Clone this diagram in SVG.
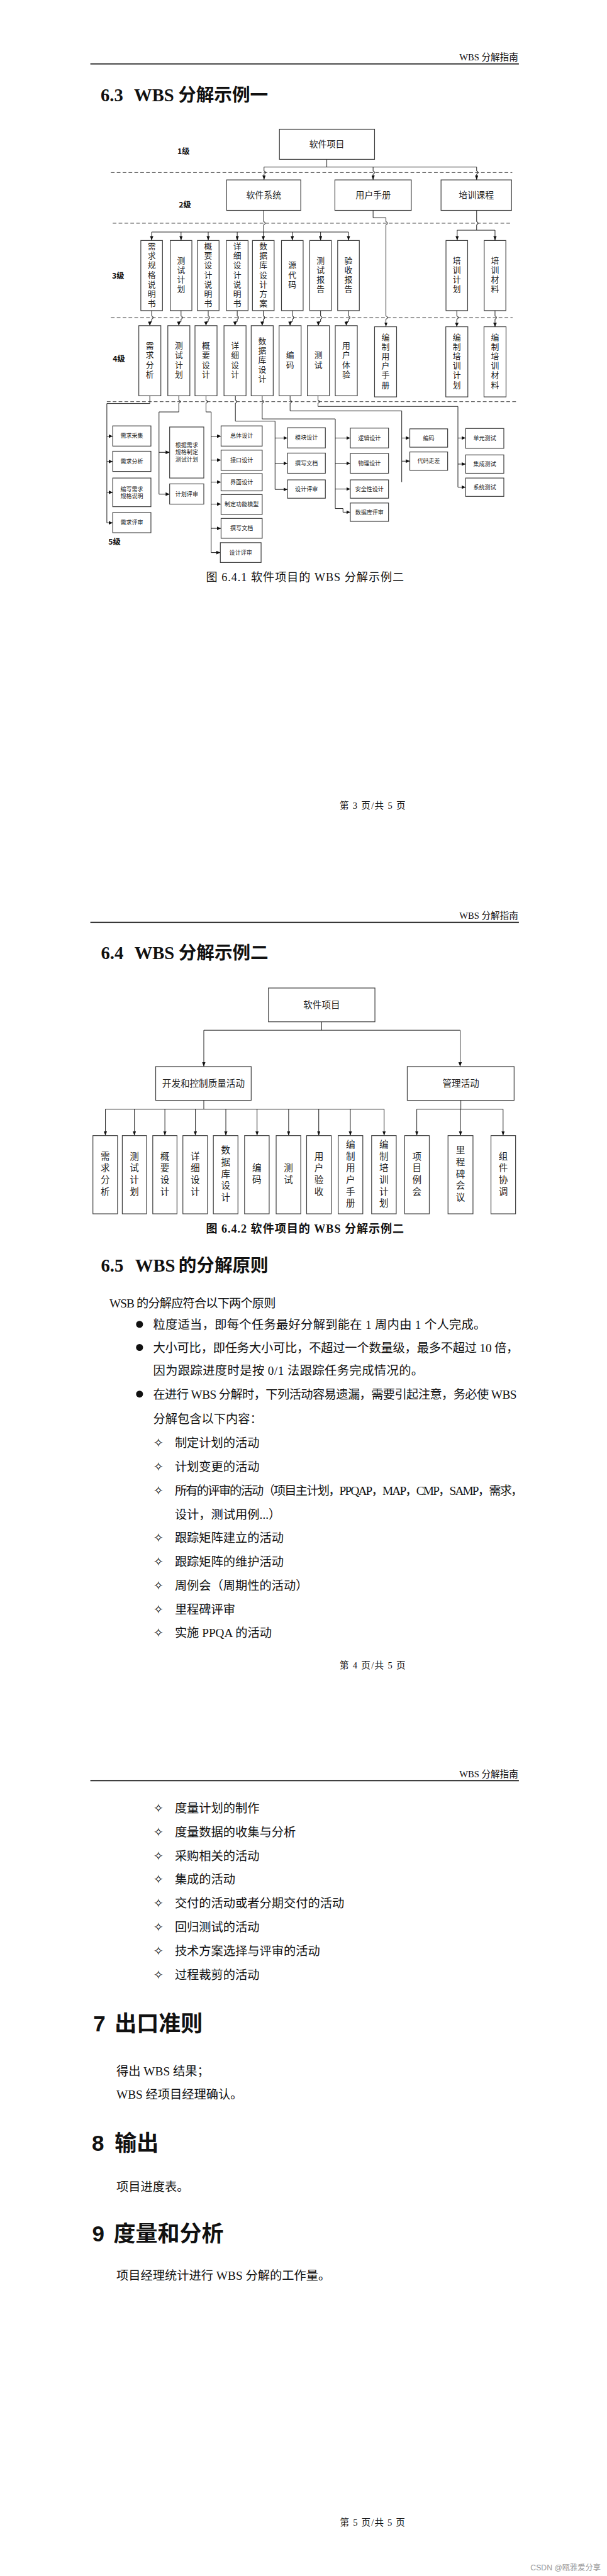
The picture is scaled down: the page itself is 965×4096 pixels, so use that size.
<svg xmlns="http://www.w3.org/2000/svg" width="965" height="4096" viewBox="0 0 965 4096">
<defs>
<style>
.t{font-family:"Liberation Serif","Noto Sans CJK SC",serif;fill:#111}
.hd{font-size:25px;text-anchor:end}
.ti{font-size:49px;font-weight:bold}
.ft{font-size:25px}
.b{font-size:33px}
.cap{font-size:31px;text-anchor:middle}
.sec{font-family:"Liberation Sans","Noto Sans CJK SC",sans-serif;font-size:60px;font-weight:bold;fill:#111}
.st{font-family:"DejaVu Sans",sans-serif;font-size:34px;fill:#111}
.r{fill:#fff;stroke:#3a3a3a;stroke-width:2}
.n{font-family:"Noto Sans CJK SC","Liberation Sans",sans-serif;text-anchor:middle;fill:#222}
.n24{font-size:24px}
.n15{font-size:15.5px}
.v{writing-mode:vertical-rl;text-anchor:middle}
.v22{font-size:22px;letter-spacing:4px}
.v25{font-size:25px;letter-spacing:7px}
.lv{font-family:"Noto Sans CJK SC",sans-serif;font-weight:bold;font-size:21px;fill:#111}
.c{fill:none;stroke:#111;stroke-width:1.6}
.d{fill:none;stroke:#333;stroke-width:1.6;stroke-dasharray:10 6}
.hr{stroke:#111;stroke-width:3}
.wm{font-family:"Liberation Sans","Noto Sans CJK SC",sans-serif;font-size:21px;fill:#9a9a9a;text-anchor:end}
</style>
<marker id="a" markerUnits="userSpaceOnUse" viewBox="0 0 11 10" markerWidth="11" markerHeight="10" refX="11" refY="5" orient="auto"><path d="M0,0L11,5L0,10z" fill="#111"/></marker>
<marker id="b" markerUnits="userSpaceOnUse" viewBox="0 0 12 9" markerWidth="12" markerHeight="9" refX="12" refY="4.5" orient="auto"><path d="M0,0L12,4.5L0,9z" fill="#111"/></marker>
</defs>
<rect width="965" height="4096" fill="#fff"/>
<g transform="scale(0.5838)">

<!-- page 3 -->
<g id="page3-header">
<text class="t hd" x="1411" y="164">WBS 分解指南</text>
<line class="hr" x1="246" y1="174" x2="1413" y2="174"/>
</g>
<text class="t ti" y="275"><tspan x="274">6.3</tspan><tspan x="365">WBS</tspan><tspan x="485">分解示例一</tspan></text>

<g id="levels1">
<text class="lv" x="483" y="419">1级</text>
<text class="lv" x="487" y="565">2级</text>
<text class="lv" x="305" y="758">3级</text>
<text class="lv" x="307" y="985">4级</text>
<text class="lv" x="295" y="1484">5级</text>
<line class="d" x1="302" y1="470" x2="1395" y2="470"/>
<line class="d" x1="307" y1="608" x2="1390" y2="608"/>
<line class="d" x1="302" y1="865" x2="1396" y2="865"/>
<line class="d" x1="291" y1="1094" x2="1405" y2="1094"/>
</g>

<g id="connectors1">
<path class="c" d="M890 434V455M719 455H1298"/>
<path class="c" marker-end="url(#b)" d="M719 455V466a4 4 0 0 1 0 8V490"/>
<path class="c" marker-end="url(#b)" d="M1016 455V466a4 4 0 0 1 0 8V490"/>
<path class="c" marker-end="url(#b)" d="M1298 455V466a4 4 0 0 1 0 8V490"/>
<path class="c" d="M718 573V604a4 4 0 0 1 0 8V632M413 632H949"/>
<path class="c" marker-end="url(#b)" d="M413 632V655"/>
<path class="c" marker-end="url(#b)" d="M493 632V655"/>
<path class="c" marker-end="url(#b)" d="M567 632V655"/>
<path class="c" marker-end="url(#b)" d="M646 632V655"/>
<path class="c" marker-end="url(#b)" d="M717 632V655"/>
<path class="c" marker-end="url(#b)" d="M796 632V655"/>
<path class="c" marker-end="url(#b)" d="M873 632V655"/>
<path class="c" marker-end="url(#b)" d="M949 632V655"/>
<path class="c" marker-end="url(#b)" d="M1016 573V593H1051V604a4 4 0 0 1 0 8V861a4 4 0 0 1 0 8V890"/>
<path class="c" d="M1298 573V604a4 4 0 0 1 0 8V627M1245 627H1348"/>
<path class="c" marker-end="url(#b)" d="M1245 627V655"/>
<path class="c" marker-end="url(#b)" d="M1348 627V655"/>
<path class="c" marker-end="url(#a)" d="M413 846V861a4 4 0 0 1 0 8V876H408V887"/>
<path class="c" marker-end="url(#a)" d="M493 846V861a4 4 0 0 1 0 8V876H487V887"/>
<path class="c" marker-end="url(#a)" d="M567 846V861a4 4 0 0 1 0 8V876H561V887"/>
<path class="c" marker-end="url(#a)" d="M646 846V861a4 4 0 0 1 0 8V876H640V887"/>
<path class="c" marker-end="url(#a)" d="M717 846V861a4 4 0 0 1 0 8V876H714V887"/>
<path class="c" marker-end="url(#a)" d="M796 846V861a4 4 0 0 1 0 8V876H790V887"/>
<path class="c" marker-end="url(#a)" d="M873 846V861a4 4 0 0 1 0 8V876H867V887"/>
<path class="c" marker-end="url(#a)" d="M949 846V861a4 4 0 0 1 0 8V876H943V887"/>
<path class="c" marker-end="url(#a)" d="M1244 846V861a4 4 0 0 1 0 8V890"/>
<path class="c" marker-end="url(#a)" d="M1348 846V861a4 4 0 0 1 0 8V890"/>
<!-- level 5 -->
<path class="c" d="M408 1078V1099H291V1424"/>
<path class="c" marker-end="url(#a)" d="M291 1188H307"/>
<path class="c" marker-end="url(#a)" d="M291 1257H307"/>
<path class="c" marker-end="url(#a)" d="M291 1341H307"/>
<path class="c" marker-end="url(#a)" d="M291 1424H307"/>
<path class="c" d="M487 1078V1090a4 4 0 0 1 0 8V1122H433V1346"/>
<path class="c" marker-end="url(#a)" d="M433 1232H462"/>
<path class="c" marker-end="url(#a)" d="M433 1346H462"/>
<path class="c" d="M561 1078V1090a4 4 0 0 1 0 8V1122H575V1505"/>
<path class="c" marker-end="url(#a)" d="M575 1188H602"/>
<path class="c" marker-end="url(#a)" d="M575 1253H602"/>
<path class="c" marker-end="url(#a)" d="M575 1313H602"/>
<path class="c" marker-end="url(#a)" d="M575 1373H602"/>
<path class="c" marker-end="url(#a)" d="M575 1439H602"/>
<path class="c" marker-end="url(#a)" d="M575 1505H600"/>
<path class="c" d="M641 1078V1090a4 4 0 0 1 0 8V1147H749V1333"/>
<path class="c" marker-end="url(#a)" d="M749 1193H783"/>
<path class="c" marker-end="url(#a)" d="M749 1262H783"/>
<path class="c" marker-end="url(#a)" d="M749 1333H783"/>
<path class="c" d="M714 1078V1090a4 4 0 0 1 0 8V1141H913V1385"/>
<path class="c" marker-end="url(#a)" d="M913 1193H954"/>
<path class="c" marker-end="url(#a)" d="M913 1262H954"/>
<path class="c" marker-end="url(#a)" d="M913 1332H954"/>
<path class="c" marker-end="url(#a)" d="M913 1385H934V1395H954"/>
<path class="c" d="M790 1078V1090a4 4 0 0 1 0 8V1119H1094V1313"/>
<path class="c" marker-end="url(#a)" d="M1094 1193H1116"/>
<path class="c" marker-end="url(#a)" d="M1094 1256H1116"/>
<path class="c" d="M866 1078V1090a4 4 0 0 1 0 8V1107H1247V1327"/>
<path class="c" marker-end="url(#a)" d="M1247 1193H1268"/>
<path class="c" marker-end="url(#a)" d="M1247 1264H1268"/>
<path class="c" marker-end="url(#a)" d="M1247 1327H1268"/>
</g>

<g id="n-root1"><rect class="r" x="761" y="352" width="259" height="82"/><text class="n n24" x="890" y="401">软件项目</text></g>
<g id="n-sys"><rect class="r" x="617" y="490" width="202" height="83"/><text class="n n24" x="718" y="539">软件系统</text></g>
<g id="n-manual"><rect class="r" x="912" y="490" width="208" height="83"/><text class="n n24" x="1016" y="539">用户手册</text></g>
<g id="n-train"><rect class="r" x="1201" y="490" width="192" height="83"/><text class="n n24" x="1297" y="539">培训课程</text></g>

<g id="n3-1"><rect class="r" x="383.5" y="655" width="59" height="191"/><text class="n v v22" x="413" y="750">需求规格说明书</text></g>
<g id="n3-2"><rect class="r" x="463.5" y="655" width="59" height="191"/><text class="n v v22" x="493" y="750">测试计划</text></g>
<g id="n3-3"><rect class="r" x="537.5" y="655" width="59" height="191"/><text class="n v v22" x="567" y="750">概要设计说明书</text></g>
<g id="n3-4"><rect class="r" x="616.5" y="655" width="59" height="191"/><text class="n v v22" x="646" y="750">详细设计说明书</text></g>
<g id="n3-5"><rect class="r" x="687.5" y="655" width="59" height="191"/><text class="n v v22" x="717" y="750">数据库设计方案</text></g>
<g id="n3-6"><rect class="r" x="766.5" y="655" width="59" height="191"/><text class="n v v22" x="796" y="750">源代码</text></g>
<g id="n3-7"><rect class="r" x="843.5" y="655" width="59" height="191"/><text class="n v v22" x="873" y="750">测试报告</text></g>
<g id="n3-8"><rect class="r" x="919.5" y="655" width="59" height="191"/><text class="n v v22" x="949" y="750">验收报告</text></g>
<g id="n3-9"><rect class="r" x="1214.5" y="655" width="59" height="191"/><text class="n v v22" x="1244" y="750">培训计划</text></g>
<g id="n3-10"><rect class="r" x="1318.5" y="655" width="59" height="191"/><text class="n v v22" x="1348" y="750">培训材料</text></g>

<g id="n4-1"><rect class="r" x="378" y="887" width="60" height="191"/><text class="n v v22" x="408" y="982">需求分析</text></g>
<g id="n4-2"><rect class="r" x="457" y="887" width="60" height="191"/><text class="n v v22" x="487" y="982">测试计划</text></g>
<g id="n4-3"><rect class="r" x="531" y="887" width="60" height="191"/><text class="n v v22" x="561" y="982">概要设计</text></g>
<g id="n4-4"><rect class="r" x="610" y="887" width="60" height="191"/><text class="n v v22" x="640" y="982">详细设计</text></g>
<g id="n4-5"><rect class="r" x="684" y="887" width="60" height="191"/><text class="n v v22" x="714" y="982">数据库设计</text></g>
<g id="n4-6"><rect class="r" x="760" y="887" width="60" height="191"/><text class="n v v22" x="790" y="982">编码</text></g>
<g id="n4-7"><rect class="r" x="837" y="887" width="60" height="191"/><text class="n v v22" x="867" y="982">测试</text></g>
<g id="n4-8"><rect class="r" x="913" y="887" width="60" height="191"/><text class="n v v22" x="943" y="982">用户体验</text></g>
<g id="n4-9"><rect class="r" x="1020" y="890" width="60" height="191"/><text class="n v v22" x="1050" y="985">编制用户手册</text></g>
<g id="n4-10"><rect class="r" x="1214" y="890" width="60" height="191"/><text class="n v v22" x="1244" y="985">编制培训计划</text></g>
<g id="n4-11"><rect class="r" x="1318" y="890" width="60" height="191"/><text class="n v v22" x="1348" y="985">编制培训材料</text></g>

<g id="n5-1a"><rect class="r" x="307" y="1160" width="104" height="55"/><text class="n n15" x="359" y="1193">需求采集</text></g>
<g id="n5-1b"><rect class="r" x="307" y="1229" width="104" height="55"/><text class="n n15" x="359" y="1262">需求分析</text></g>
<g id="n5-1c"><rect class="r" x="307" y="1302" width="104" height="78"/><text class="n n15" x="359" y="1337">编写需求</text><text class="n n15" x="359" y="1356">规格说明</text></g>
<g id="n5-1d"><rect class="r" x="307" y="1396" width="104" height="55"/><text class="n n15" x="359" y="1429">需求评审</text></g>
<g id="n5-2a"><rect class="r" x="462" y="1163" width="93" height="139"/><text class="n n15" x="508.5" y="1218.5">根据需求</text><text class="n n15" x="508.5" y="1237.5">规格制定</text><text class="n n15" x="508.5" y="1256.5">测试计划</text></g>
<g id="n5-2b"><rect class="r" x="462" y="1318" width="93" height="55"/><text class="n n15" x="508.5" y="1351">计划评审</text></g>
<g id="n5-3a"><rect class="r" x="602" y="1160" width="112" height="55"/><text class="n n15" x="658" y="1193">总体设计</text></g>
<g id="n5-3b"><rect class="r" x="602" y="1226" width="112" height="55"/><text class="n n15" x="658" y="1259">接口设计</text></g>
<g id="n5-3c"><rect class="r" x="602" y="1290" width="112" height="47"/><text class="n n15" x="658" y="1319">界面设计</text></g>
<g id="n5-3d"><rect class="r" x="602" y="1347" width="112" height="54"/><text class="n n15" x="658" y="1379.5">制定功能模型</text></g>
<g id="n5-3e"><rect class="r" x="602" y="1412" width="112" height="54"/><text class="n n15" x="658" y="1444.5">撰写文档</text></g>
<g id="n5-3f"><rect class="r" x="600" y="1478" width="111" height="54"/><text class="n n15" x="655.5" y="1510.5">设计评审</text></g>
<g id="n5-4a"><rect class="r" x="783" y="1165" width="103" height="55"/><text class="n n15" x="834.5" y="1198">模块设计</text></g>
<g id="n5-4b"><rect class="r" x="783" y="1234" width="103" height="55"/><text class="n n15" x="834.5" y="1267">撰写文档</text></g>
<g id="n5-4c"><rect class="r" x="783" y="1307" width="103" height="50"/><text class="n n15" x="834.5" y="1337.5">设计评审</text></g>
<g id="n5-5a"><rect class="r" x="954" y="1166" width="104" height="54"/><text class="n n15" x="1006" y="1198.5">逻辑设计</text></g>
<g id="n5-5b"><rect class="r" x="954" y="1235" width="104" height="54"/><text class="n n15" x="1006" y="1267.5">物理设计</text></g>
<g id="n5-5c"><rect class="r" x="954" y="1307" width="104" height="50"/><text class="n n15" x="1006" y="1337.5">安全性设计</text></g>
<g id="n5-5d"><rect class="r" x="954" y="1370" width="104" height="50"/><text class="n n15" x="1006" y="1400.5">数据库评审</text></g>
<g id="n5-6a"><rect class="r" x="1116" y="1168" width="103" height="50"/><text class="n n15" x="1167.5" y="1198.5">编码</text></g>
<g id="n5-6b"><rect class="r" x="1116" y="1231" width="103" height="50"/><text class="n n15" x="1167.5" y="1261.5">代码走差</text></g>
<g id="n5-7a"><rect class="r" x="1268" y="1167" width="104" height="54"/><text class="n n15" x="1320" y="1199.5">单元测试</text></g>
<g id="n5-7b"><rect class="r" x="1268" y="1239" width="104" height="50"/><text class="n n15" x="1320" y="1269.5">集成测试</text></g>
<g id="n5-7c"><rect class="r" x="1268" y="1302" width="104" height="50"/><text class="n n15" x="1320" y="1332.5">系统测试</text></g>

<text class="t cap" x="830.5" y="1583" textLength="539">图 6.4.1 软件项目的 WBS 分解示例二</text>
<text class="t ft" x="925" y="2203" textLength="179">第 3 页/共 5 页</text>

<!-- page 4 -->
<g id="page4-header">
<text class="t hd" x="1411" y="2503">WBS 分解指南</text>
<line class="hr" x1="246" y1="2512" x2="1413" y2="2512"/>
</g>
<text class="t ti" y="2613"><tspan x="275">6.4</tspan><tspan x="366">WBS</tspan><tspan x="486">分解示例二</tspan></text>

<g id="connectors2">
<path class="c" d="M876 2783V2806M555 2806H1253"/>
<path class="c" marker-end="url(#b)" d="M555 2806V2905"/>
<path class="c" marker-end="url(#b)" d="M1253 2806V2905"/>
<path class="c" d="M555 2997V3021M287 3021H1046M1255 2997V3021M1135 3021H1370"/>
<path class="c" marker-end="url(#b)" d="M287 3021V3093"/>
<path class="c" marker-end="url(#b)" d="M366 3021V3093"/>
<path class="c" marker-end="url(#b)" d="M449 3021V3093"/>
<path class="c" marker-end="url(#b)" d="M532 3021V3093"/>
<path class="c" marker-end="url(#b)" d="M615 3021V3093"/>
<path class="c" marker-end="url(#b)" d="M700 3021V3093"/>
<path class="c" marker-end="url(#b)" d="M786 3021V3093"/>
<path class="c" marker-end="url(#b)" d="M868 3021V3093"/>
<path class="c" marker-end="url(#b)" d="M954 3021V3093"/>
<path class="c" marker-end="url(#b)" d="M1046 3021V3093"/>
<path class="c" marker-end="url(#b)" d="M1135 3021V3093"/>
<path class="c" marker-end="url(#b)" d="M1254 3021V3093"/>
<path class="c" marker-end="url(#b)" d="M1370 3021V3093"/>
</g>
<g id="m-root"><rect class="r" x="731" y="2691" width="290" height="92"/><text class="n" style="font-size:25px" x="876" y="2745">软件项目</text></g>
<g id="m-dev"><rect class="r" x="424" y="2905" width="260" height="92"/><text class="n" style="font-size:25px" x="554" y="2960">开发和控制质量活动</text></g>
<g id="m-mgmt"><rect class="r" x="1109" y="2905" width="291" height="92"/><text class="n" style="font-size:25px" x="1255" y="2960">管理活动</text></g>
<g id="m1"><rect class="r" x="253" y="3093" width="67" height="213"/><text class="n v v25" x="286.5" y="3200">需求分析</text></g>
<g id="m2"><rect class="r" x="333" y="3093" width="66" height="213"/><text class="n v v25" x="366" y="3200">测试计划</text></g>
<g id="m3"><rect class="r" x="416" y="3093" width="66" height="213"/><text class="n v v25" x="449" y="3200">概要设计</text></g>
<g id="m4"><rect class="r" x="498" y="3093" width="67" height="213"/><text class="n v v25" x="531.5" y="3200">详细设计</text></g>
<g id="m5"><rect class="r" x="581" y="3093" width="67" height="213"/><text class="n v v25" x="614.5" y="3200">数据库设计</text></g>
<g id="m6"><rect class="r" x="666" y="3093" width="67" height="213"/><text class="n v v25" x="699.5" y="3200">编码</text></g>
<g id="m7"><rect class="r" x="752" y="3093" width="67" height="213"/><text class="n v v25" x="785.5" y="3200">测试</text></g>
<g id="m8"><rect class="r" x="835" y="3093" width="67" height="213"/><text class="n v v25" x="868.5" y="3200">用户验收</text></g>
<g id="m9"><rect class="r" x="921" y="3093" width="67" height="213"/><text class="n v v25" x="954.5" y="3200">编制用户手册</text></g>
<g id="m10"><rect class="r" x="1012" y="3093" width="67" height="213"/><text class="n v v25" x="1045.5" y="3200">编制培训计划</text></g>
<g id="m11"><rect class="r" x="1102" y="3093" width="67" height="213"/><text class="n v v25" x="1135.5" y="3200">项目例会</text></g>
<g id="m12"><rect class="r" x="1220" y="3093" width="68" height="213"/><text class="n v v25" x="1254" y="3200">里程碑会议</text></g>
<g id="m13"><rect class="r" x="1337" y="3093" width="67" height="213"/><text class="n v v25" x="1370.5" y="3200">组件协调</text></g>

<text class="t cap" style="font-weight:bold" x="830.5" y="3358" textLength="539">图 6.4.2 软件项目的 WBS 分解示例二</text>

<text class="t ti" y="3463"><tspan x="275">6.5</tspan><tspan x="368">WBS</tspan><tspan x="486">的分解原则</tspan></text>
<text class="t b" x="298" y="3561" textLength="453">WSB 的分解应符合以下两个原则</text>
<circle cx="380" cy="3607" r="9.5" fill="#111"/>
<text class="t b" x="417" y="3619" textLength="906">粒度适当，即每个任务最好分解到能在 1 周内由 1 个人完成。</text>
<circle cx="380" cy="3670" r="9.5" fill="#111"/>
<text class="t b" x="417" y="3682" textLength="995">大小可比，即任务大小可比，不超过一个数量级，最多不超过 10 倍，</text>
<text class="t b" x="417" y="3745" textLength="736">因为跟踪进度时是按 0/1 法跟踪任务完成情况的。</text>
<circle cx="380" cy="3797" r="9.5" fill="#111"/>
<text class="t b" x="417" y="3809" textLength="990">在进行 WBS 分解时，下列活动容易遗漏，需要引起注意，务必使 WBS</text>
<text class="t b" x="417" y="3877">分解包含以下内容：</text>
<g id="list1">
<text class="st" x="417" y="3941">✧</text><text class="t b" x="476" y="3941">制定计划的活动</text>
<text class="st" x="417" y="4006">✧</text><text class="t b" x="476" y="4006">计划变更的活动</text>
<text class="st" x="417" y="4071">✧</text><text class="t b" x="476" y="4071" textLength="948">所有的评审的活动（项目主计划，PPQAP，MAP，CMP，SAMP，需求，</text>
<text class="t b" x="476" y="4136">设计，测试用例...）</text>
<text class="st" x="417" y="4200">✧</text><text class="t b" x="476" y="4200">跟踪矩阵建立的活动</text>
<text class="st" x="417" y="4265">✧</text><text class="t b" x="476" y="4265">跟踪矩阵的维护活动</text>
<text class="st" x="417" y="4330">✧</text><text class="t b" x="476" y="4330">周例会（周期性的活动）</text>
<text class="st" x="417" y="4395">✧</text><text class="t b" x="476" y="4395">里程碑评审</text>
<text class="st" x="417" y="4459">✧</text><text class="t b" x="476" y="4459">实施 PPQA 的活动</text>
</g>
<text class="t ft" x="925" y="4544" textLength="179">第 4 页/共 5 页</text>

<!-- page 5 -->
<g id="page5-header">
<text class="t hd" x="1411" y="4841">WBS 分解指南</text>
<line class="hr" x1="246" y1="4850" x2="1413" y2="4850"/>
</g>
<g id="list2">
<text class="st" x="417" y="4936">✧</text><text class="t b" x="476" y="4936">度量计划的制作</text>
<text class="st" x="417" y="5001">✧</text><text class="t b" x="476" y="5001">度量数据的收集与分析</text>
<text class="st" x="417" y="5066">✧</text><text class="t b" x="476" y="5066">采购相关的活动</text>
<text class="st" x="417" y="5130">✧</text><text class="t b" x="476" y="5130">集成的活动</text>
<text class="st" x="417" y="5195">✧</text><text class="t b" x="476" y="5195">交付的活动或者分期交付的活动</text>
<text class="st" x="417" y="5260">✧</text><text class="t b" x="476" y="5260">回归测试的活动</text>
<text class="st" x="417" y="5325">✧</text><text class="t b" x="476" y="5325">技术方案选择与评审的活动</text>
<text class="st" x="417" y="5390">✧</text><text class="t b" x="476" y="5390">过程裁剪的活动</text>
</g>
<text class="sec" y="5533"><tspan x="254">7</tspan><tspan x="312">出口准则</tspan></text>
<text class="t b" x="317" y="5652">得出 WBS 结果；</text>
<text class="t b" x="317" y="5716">WBS 经项目经理确认。</text>
<text class="sec" y="5859"><tspan x="250">8</tspan><tspan x="312">输出</tspan></text>
<text class="t b" x="317" y="5967">项目进度表。</text>
<text class="sec" y="6104"><tspan x="251">9</tspan><tspan x="309">度量和分析</tspan></text>
<text class="t b" x="317" y="6210">项目经理统计进行 WBS 分解的工作量。</text>
<text class="t ft" x="926" y="6879" textLength="177">第 5 页/共 5 页</text>
<text class="wm" x="1636" y="7001">CSDN @瓯雅爱分享</text>
</g>
</svg>
